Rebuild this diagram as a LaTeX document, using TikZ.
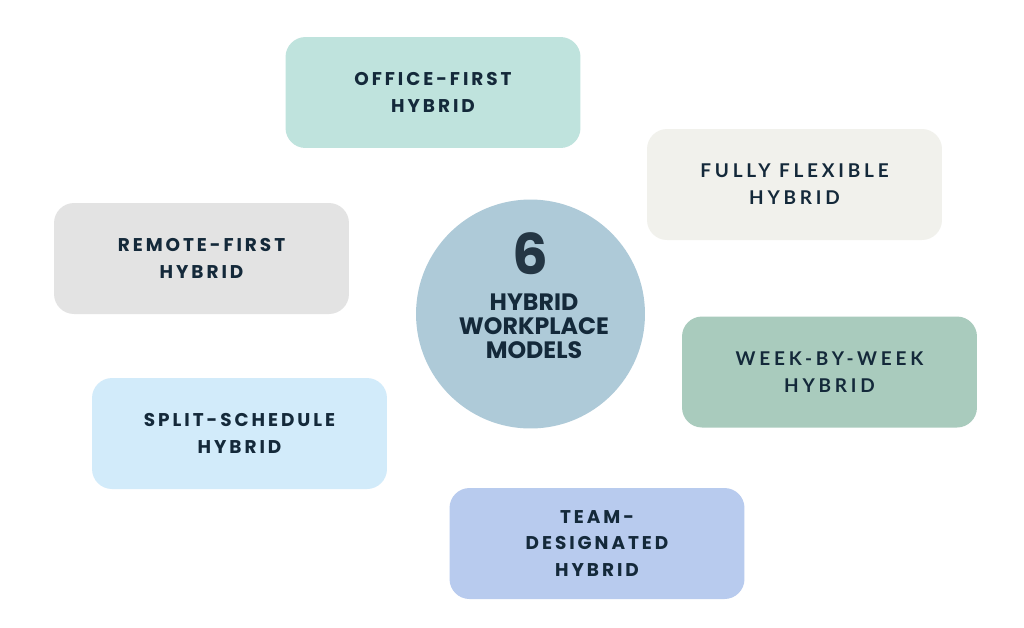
\documentclass[tikz,border=0pt]{standalone}
\usepackage{fontspec}
\usetikzlibrary{positioning}
\newfontfamily\spartan[LetterSpace=16]{Poppins}
\newfontfamily\latowide[LetterSpace=20]{Lato}
\newfontfamily\spartantight{Poppins}
\definecolor{inkblue}{HTML}{14293A}
\definecolor{officegreen}{HTML}{BFE3DD}
\definecolor{flexgrey}{HTML}{F1F1EC}
\definecolor{remotegrey}{HTML}{E3E3E3}
\definecolor{weekgreen}{HTML}{A9CBBD}
\definecolor{splitblue}{HTML}{D2EBFA}
\definecolor{teamblue}{HTML}{B8CBEE}
\definecolor{hubblue}{HTML}{AECAD8}
\begin{document}
\begin{tikzpicture}[x=0.02cm, y=-0.02cm,
    model/.style={rectangle, rounded corners=0.4cm, minimum width=5.9cm,
      minimum height=2.22cm, align=center, text=inkblue,
      font=\spartan\bfseries\fontsize{10.5}{15.3}\selectfont},
    lato/.style={font=\latowide\bfseries\fontsize{10.8}{15.3}\selectfont},
    hub/.style={circle, minimum size=4.58cm, fill=hubblue, inner sep=0pt}]
    \useasboundingbox[fill=white] (0,0) rectangle (1024,627);
    % center
    \node[hub] (models) at (530.5,314) {};
    \node[text=inkblue!85!gray, font=\spartantight\bfseries\fontsize{32}{32}\selectfont] (six) at (530.5,254) {6};
    \node[text=inkblue, align=center, font=\spartantight\bfseries\fontsize{13.5}{13.8}\selectfont] (title) at (534,326) {HYBRID\\WORKPLACE\\MODELS};
    % six models round it
    \node[model, fill=officegreen] (office) at (433,92.5) {OFFICE-FIRST\\HYBRID};
    \node[model, lato, fill=flexgrey] (flexible) at (794.5,184.5) {FULLY FLEXIBLE\\HYBRID};
    \node[model, fill=remotegrey] (remote) at (201.5,258.5) {REMOTE-FIRST\\HYBRID};
    \node[model, lato, fill=weekgreen] (week) at (829.5,372) {WEEK-BY-WEEK\\HYBRID};
    \node[model, fill=splitblue] (split) at (239.5,433.5) {SPLIT-SCHEDULE\\HYBRID};
    \node[model, fill=teamblue] (team) at (597,543.5) {TEAM-\\DESIGNATED\\HYBRID};
\end{tikzpicture}
\end{document}
